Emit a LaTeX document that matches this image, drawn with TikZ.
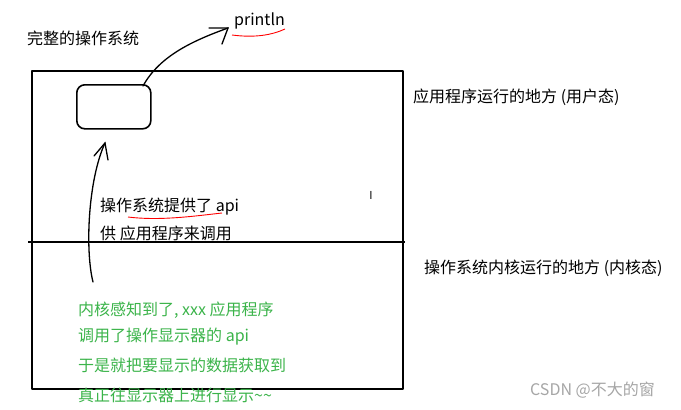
\documentclass[tikz,border=0pt]{standalone}
\usepackage{fontspec}
\setmainfont{Noto Sans CJK SC}
\definecolor{grn}{HTML}{3BB44A}
\begin{document}
\begin{tikzpicture}[x=1pt,y=-1pt,
  lbl/.style={anchor=west,inner sep=0,font=\fontsize{16}{18}\selectfont},
  grnt/.style={lbl,text=grn},
  ink/.style={line width=1.6pt,line cap=round,line join=round},
  hand/.style={line width=1.3pt,line cap=round}]
\fill[white] (0,0) rectangle (681,410);
\useasboundingbox (0,0) rectangle (681,410);
\node[draw,ink,minimum width=371,minimum height=318,anchor=north west,inner sep=0] (outer) at (31,70) {};
\coordinate (hl) at (28,242); \coordinate (hr) at (405,242);
\draw[line width=1.6pt] (hl) -- (hr);
\node[draw,ink,rounded corners=8pt,minimum width=74,minimum height=44,anchor=north west,inner sep=0] (app) at (76,84) {};
\node[lbl] (os) at (27,38) {完整的操作系统};
\node[lbl] (pr) at (234,21) {println};
\draw[red,line width=0.9pt] (232,35) .. controls (255,38) and (272,35) .. (285,29);
\coordinate (a1) at (143,86);
\coordinate (a2) at (228,28);
\draw[hand] (a1) .. controls (160,55) and (195,40) .. (a2);
\draw[hand] (209,28) -- (a2) -- (222,44);
\node[lbl] (user) at (413,97) {应用程序运行的地方 (用户态)};
\node[lbl] (kern) at (424,268) {操作系统内核运行的地方 (内核态)};
\node[lbl] (api1) at (100,207) {操作系统提供了 api};
\node[lbl] (api2) at (100,233) {供 应用程序来调用};
\draw[red,line width=0.9pt] (128,217) .. controls (160,221) and (195,216) .. (222,213);
\coordinate (b1) at (93,282);
\coordinate (b2) at (105,143);
\draw[hand] (b1) .. controls (85,250) and (88,180) .. (b2);
\draw[hand] (94,156) -- (b2) -- (108,160);
\node[font=\fontsize{11}{11}\selectfont\rmfamily,inner sep=0] (cur) at (371,195) {I};
\node[grnt] (g1) at (78,310) {内核感知到了, xxx 应用程序};
\node[grnt] (g2) at (78,337) {调用了操作显示器的 api};
\node[grnt] (g3) at (78,365) {于是就把要显示的数据获取到};
\node[grnt] (g4) at (78,395) {真正往显示器上进行显示\textasciitilde\textasciitilde};
\node[lbl,text=gray!70,font=\fontsize{16}{18}\selectfont] (csdn) at (530,390) {CSDN @不大的窗};
\end{tikzpicture}
\end{document}
